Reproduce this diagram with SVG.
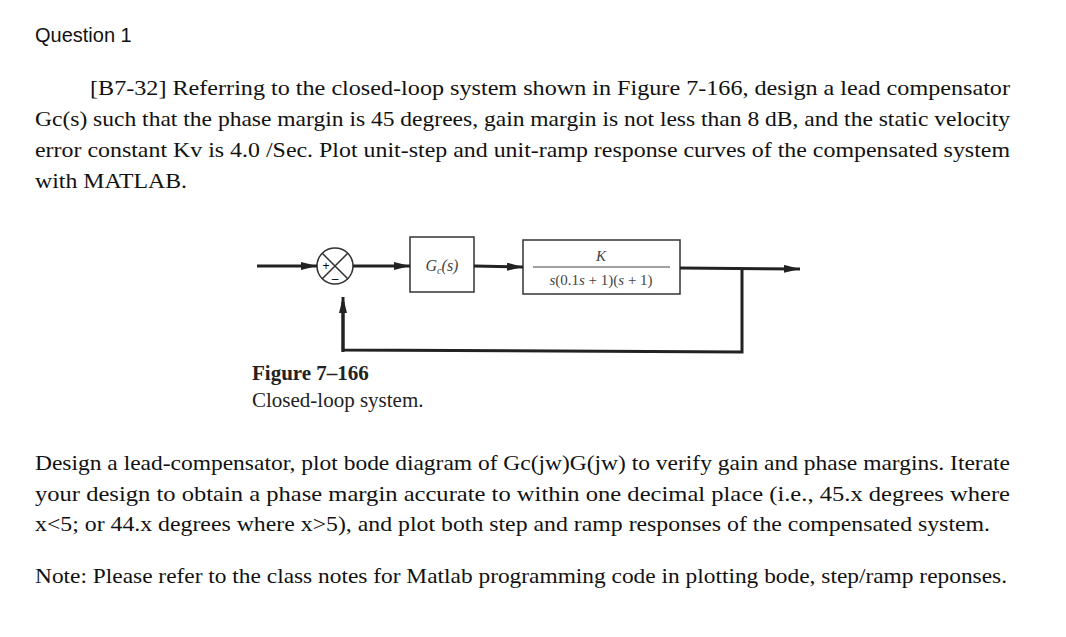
<svg xmlns="http://www.w3.org/2000/svg" width="1066" height="637" viewBox="0 0 1066 637">
<defs><marker id="a" viewBox="0 0 16 8" refX="16" refY="4" markerWidth="16" markerHeight="8" orient="auto" markerUnits="userSpaceOnUse"><path d="M0,0 L16,4 L0,8 z" fill="#222"/></marker></defs>
<style>.t{font-family:"Liberation Serif",serif;font-size:22px;fill:#111}.b{fill:none;stroke:#333;stroke-width:1.5}.c{fill:none;stroke:#222;stroke-width:3}</style>
<rect width="1066" height="637" fill="#fff"/>
<text x="35" y="42" style="font-family:'Liberation Sans',sans-serif;font-size:20px;fill:#111">Question 1</text>
<text class="t" x="90" y="95" textLength="920" lengthAdjust="spacingAndGlyphs">[B7-32] Referring to the closed-loop system shown in Figure 7-166, design a lead compensator</text>
<text class="t" x="35" y="126" textLength="975" lengthAdjust="spacingAndGlyphs">Gc(s) such that the phase margin is 45 degrees, gain margin is not less than 8 dB, and the static velocity</text>
<text class="t" x="35" y="157" textLength="975" lengthAdjust="spacingAndGlyphs">error constant Kv is 4.0 /Sec. Plot unit-step and unit-ramp response curves of the compensated system</text>
<text class="t" x="35" y="188" textLength="152" lengthAdjust="spacingAndGlyphs">with MATLAB.</text>
<g id="sum"><circle cx="335" cy="266" r="18" class="b" stroke-width="2"/><path d="M322,253 L348,279 M348,253 L322,279" class="b"/><text x="326" y="270" style="font-family:'Liberation Sans',sans-serif;font-size:12px" text-anchor="middle">+</text><text x="335" y="283" style="font-family:'Liberation Sans',sans-serif;font-size:12px" text-anchor="middle">–</text></g>
<g id="gc"><rect x="410" y="237" width="64" height="55" class="b"/><text x="442" y="271" text-anchor="middle" style="font-family:'Liberation Serif',serif;font-size:16px;font-style:italic;fill:#444">G<tspan font-size="10" dy="3">c</tspan><tspan dy="-3">(s)</tspan></text></g>
<g id="plant"><rect x="523" y="240" width="157" height="54" class="b"/><text x="601" y="261" text-anchor="middle" style="font-family:'Liberation Serif',serif;font-size:15px;font-style:italic;fill:#444">K</text><line x1="533" y1="267" x2="670" y2="267" stroke="#444"/><text x="601" y="285" text-anchor="middle" style="font-family:'Liberation Serif',serif;font-size:15px;fill:#444"><tspan font-style="italic">s</tspan>(0.1<tspan font-style="italic">s</tspan> + 1)(<tspan font-style="italic">s</tspan> + 1)</text></g>
<g id="connectors">
<line x1="257" y1="266" x2="317" y2="266" class="c" marker-end="url(#a)"/>
<line x1="353" y1="266" x2="410" y2="266" class="c" marker-end="url(#a)"/>
<line x1="474" y1="266" x2="523" y2="267" class="c" marker-end="url(#a)"/>
<line x1="680" y1="268" x2="800" y2="269" class="c" marker-end="url(#a)"/>
<polyline points="742,268 742,352 343,350 343,302" class="c"/>
<line x1="343" y1="352" x2="343" y2="297" class="c" marker-end="url(#a)"/>
</g>
<text x="252" y="380" style="font-family:'Liberation Serif',serif;font-size:21px;font-weight:bold;fill:#222">Figure 7–166</text>
<text x="252" y="407" style="font-family:'Liberation Serif',serif;font-size:21px;fill:#222">Closed-loop system.</text>
<text class="t" x="35" y="470" textLength="975" lengthAdjust="spacingAndGlyphs">Design a lead-compensator, plot bode diagram of Gc(jw)G(jw) to verify gain and phase margins. Iterate</text>
<text class="t" x="35" y="501" textLength="975" lengthAdjust="spacingAndGlyphs">your design to obtain a phase margin accurate to within one decimal place (i.e., 45.x degrees where</text>
<text class="t" x="35" y="531" textLength="955" lengthAdjust="spacingAndGlyphs">x&lt;5; or 44.x degrees where x&gt;5), and plot both step and ramp responses of the compensated system.</text>
<text class="t" x="35" y="583" textLength="972" lengthAdjust="spacingAndGlyphs">Note: Please refer to the class notes for Matlab programming code in plotting bode, step/ramp reponses.</text>
</svg>
